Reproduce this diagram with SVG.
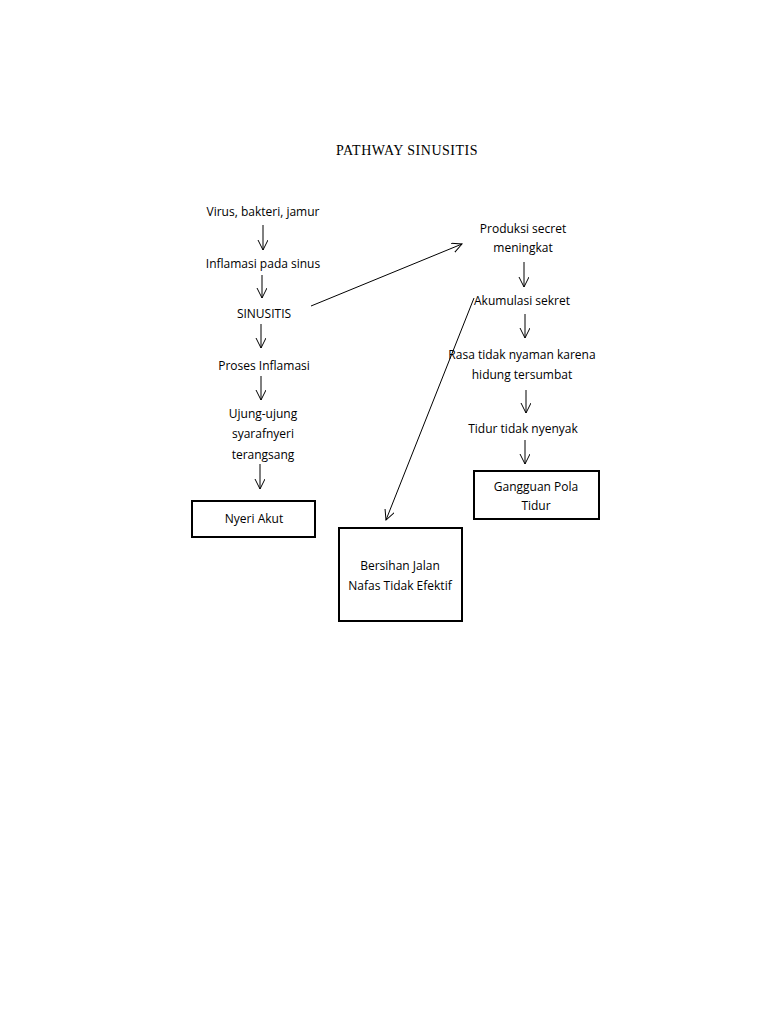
<svg xmlns="http://www.w3.org/2000/svg" width="768" height="1024" viewBox="0 0 768 1024">
<style>
text{font-family:"Open Sans","Liberation Sans",sans-serif;font-size:12px;fill:#000;text-anchor:middle}
.t{font-family:"Liberation Serif",serif;font-size:14px;letter-spacing:0.5px}
.c{stroke:#000;stroke-width:1;fill:none}
.b{stroke:#000;stroke-width:2;fill:#fff}
</style>
<defs><marker id="a" markerWidth="12" markerHeight="12" refX="10" refY="5" orient="auto" markerUnits="userSpaceOnUse"><path d="M0,0 L10,5 L0,10" fill="none" stroke="#000"/></marker></defs>
<rect width="768" height="1024" fill="#fff"/>
<text class="t" x="407" y="155">PATHWAY SINUSITIS</text>
<g id="connectors">
<line class="c" x1="263" y1="225" x2="263" y2="250" marker-end="url(#a)"/>
<line class="c" x1="262" y1="275" x2="262" y2="298" marker-end="url(#a)"/>
<line class="c" x1="261" y1="324" x2="261" y2="348" marker-end="url(#a)"/>
<line class="c" x1="261" y1="376" x2="261" y2="400" marker-end="url(#a)"/>
<line class="c" x1="260" y1="464" x2="260" y2="489" marker-end="url(#a)"/>
<line class="c" x1="311" y1="306" x2="462" y2="244" marker-end="url(#a)"/>
<line class="c" x1="524" y1="262" x2="524" y2="287" marker-end="url(#a)"/>
<line class="c" x1="525" y1="314" x2="525" y2="338" marker-end="url(#a)"/>
<line class="c" x1="526" y1="390" x2="526" y2="413" marker-end="url(#a)"/>
<line class="c" x1="525" y1="440" x2="525" y2="464" marker-end="url(#a)"/>
<line class="c" x1="474" y1="298" x2="386" y2="520" marker-end="url(#a)"/>
</g>
<g id="n1"><text x="263" y="216">Virus, bakteri, jamur</text></g>
<g id="n2"><text x="263" y="268">Inflamasi pada sinus</text></g>
<g id="n3"><text x="264" y="318">SINUSITIS</text></g>
<g id="n4"><text x="264" y="370">Proses Inflamasi</text></g>
<g id="n5"><text x="263" y="418">Ujung-ujung</text><text x="263" y="438">syarafnyeri</text><text x="263" y="459">terangsang</text></g>
<g id="n6"><rect class="b" x="192" y="501" width="123" height="36"/><text x="254" y="523">Nyeri Akut</text></g>
<g id="n7"><text x="523" y="233">Produksi secret</text><text x="523" y="252">meningkat</text></g>
<g id="n8"><text x="522" y="305">Akumulasi sekret</text></g>
<g id="n9"><text x="522" y="359">Rasa tidak nyaman karena</text><text x="522" y="379">hidung tersumbat</text></g>
<g id="n10"><text x="523" y="433">Tidur tidak nyenyak</text></g>
<g id="n11"><rect class="b" x="474" y="471" width="125" height="48"/><text x="536" y="491">Gangguan Pola</text><text x="536" y="510">Tidur</text></g>
<g id="n12"><rect class="b" x="339" y="528" width="123" height="93"/><text x="400" y="570">Bersihan Jalan</text><text x="400" y="590">Nafas Tidak Efektif</text></g>
</svg>
